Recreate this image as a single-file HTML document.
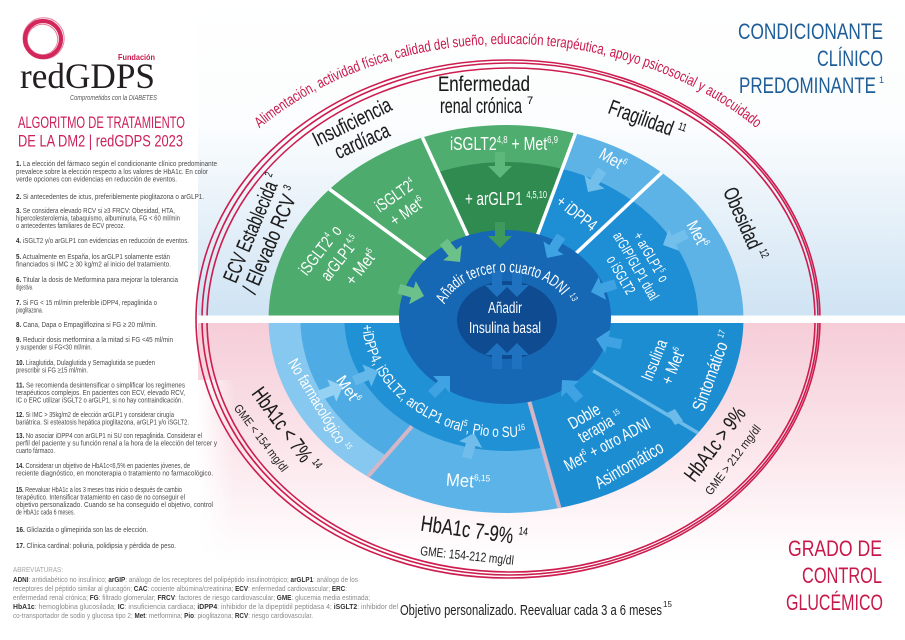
<!DOCTYPE html>
<html lang="es">
<head>
<meta charset="utf-8">
<title>Algoritmo de tratamiento de la DM2 | redGDPS 2023</title>
<style>
  html,body{margin:0;padding:0;background:#fff;}
  svg{display:block;}
  text{font-family:"Liberation Sans Narrow","Liberation Sans",sans-serif;}
  .k{fill:#1b1b1b;stroke:#1b1b1b;stroke-width:.12;}
  .w{fill:#ffffff;}
  .n{fill:#4a4a4a;font-size:7.6px;}
  .n .b{fill:#2a2a2a;font-weight:bold;}
  .ab{fill:#8a8a8a;font-size:7px;}
  .ab .b{fill:#333;font-weight:bold;}
</style>
</head>
<body>
<svg width="905" height="640" viewBox="0 0 905 640" xmlns="http://www.w3.org/2000/svg">
<defs>
  <linearGradient id="gt" x1="0" y1="0" x2="0" y2="316" gradientUnits="userSpaceOnUse">
    <stop offset="0" stop-color="#ffffff"/>
    <stop offset="0.4" stop-color="#fbfdfe"/>
    <stop offset="1" stop-color="#cfe3f3"/>
  </linearGradient>
  <linearGradient id="gb" x1="0" y1="323" x2="0" y2="640" gradientUnits="userSpaceOnUse">
    <stop offset="0" stop-color="#f5cdd8"/>
    <stop offset="0.4" stop-color="#fbe6ec"/>
    <stop offset="0.75" stop-color="#ffffff"/>
  </linearGradient>
  <linearGradient id="gl" x1="198" y1="0" x2="235" y2="0" gradientUnits="userSpaceOnUse">
    <stop offset="0" stop-color="#ffffff" stop-opacity="1"/>
    <stop offset="1" stop-color="#ffffff" stop-opacity="0"/>
  </linearGradient>
  <path id="ar" d="M-5,-26 L5,-26 L5,-12 L12,-12 L0,0 L-12,-12 L-5,-12 Z"/>
  <path id="topArc" d="M243.7,142.2 A345,275 0 0 1 772.3,142.2" fill="none"/>
  <path id="cogArc" d="M443,309.2 A64,45 0 0 1 569,309.2" fill="none"/>
  <path id="ringArc" d="M362,319 A144,118 0 0 0 555.2,429.9" fill="none"/>
</defs>

<!-- background -->
<rect x="0" y="0" width="905" height="640" fill="#ffffff"/>
<rect x="198" y="0" width="707" height="316" fill="url(#gt)"/>
<rect x="198" y="323" width="707" height="317" fill="url(#gb)"/>
<rect x="198" y="380" width="40" height="260" fill="url(#gl)"/>

<!-- red rings -->
<g fill="none" stroke="#cc1d4e" stroke-width="1.6">
  <ellipse cx="508" cy="319" rx="312" ry="259"/>
  <ellipse cx="510" cy="319" rx="308" ry="256"/>
  <ellipse cx="511" cy="320" rx="304" ry="252"/>
</g>

<!-- top arc text -->
<text font-size="15" fill="#c8184a">
  <textPath href="#topArc" startOffset="50%" text-anchor="middle" textLength="535" lengthAdjust="spacingAndGlyphs">Alimentación, actividad física, calidad del sueño, educación terapéutica, apoyo psicosocial y autocuidado</textPath>
</text>

<!-- wheel -->
<g transform="translate(506,319) scale(1.224,1)">
  <path d="M0,0 L-144.2,-129.8 A194,194 0 0 0 -194,0 Z" fill="#4cab6d"/>
  <path d="M0,0 L-68.3,-181.6 A194,194 0 0 0 -144.2,-129.8 Z" fill="#4cab6d"/>
  <path d="M0,0 L56.7,-185.5 A194,194 0 0 0 -68.3,-181.6 Z" fill="#50ad70"/>
  <path d="M0,0 L45.9,-150.1 A157,157 0 0 0 -55.2,-147 Z" fill="#2f8b50"/>
  <path d="M0,0 L127.3,-146.4 A194,194 0 0 0 56.7,-185.5 Z" fill="#5db3e6"/>
  <path d="M0,0 L103,-118.5 A157,157 0 0 0 45.9,-150.1 Z" fill="#1e8ed5"/>
  <path d="M0,0 L194,0 A194,194 0 0 0 127.3,-146.4 Z" fill="#5db3e6"/>
  <path d="M0,0 L157,0 A157,157 0 0 0 103,-118.5 Z" fill="#1e8ed5"/>
  <path d="M0,0 L-194,0 A194,194 0 0 0 -112.9,157.7 Z" fill="#86c8ef"/>
  <path d="M0,0 L-168,0 A168,168 0 0 0 -97.8,136.6 Z" fill="#4eabe3"/>
  <path d="M0,0 L-112.9,157.7 A194,194 0 0 0 43.7,189 Z" fill="#5cb3e7"/>
  <path d="M0,0 L-132,0 A132,132 0 0 0 29.7,128.6 Z" fill="#2191d6"/>
  <path d="M0,0 L43.7,189 A194,194 0 0 0 194,0 Z" fill="#1d8dd2"/>
  <g stroke="#ffffff" stroke-width="3.5">
    <line x1="-63.2" y1="-56.9" x2="-144.2" y2="-129.8" vector-effect="non-scaling-stroke"/>
    <line x1="-29.9" y1="-79.6" x2="-68.3" y2="-181.6" vector-effect="non-scaling-stroke"/>
    <line x1="24.9" y1="-81.3" x2="56.7" y2="-185.5" vector-effect="non-scaling-stroke"/>
    <line x1="55.8" y1="-64.1" x2="127.3" y2="-146.4" vector-effect="non-scaling-stroke"/>
  </g>
  <g stroke="#d4b6c7" stroke-width="4">
    <line x1="-76.8" y1="107.3" x2="-112.9" y2="157.7" vector-effect="non-scaling-stroke"/>
    <line x1="19.1" y1="82.8" x2="43.7" y2="189" vector-effect="non-scaling-stroke"/>
  </g>
  <line x1="71.2" y1="51.7" x2="156.9" y2="114" stroke="#6cbbe9" stroke-width="3.5" vector-effect="non-scaling-stroke"/>
</g>

<!-- horizontal white band -->
<rect x="198" y="315.5" width="707" height="7.5" fill="#ffffff"/>

<polygon points="675,409 683,421 675,425 667,413" fill="#6cbbe9"/>

<!-- arrows between bands -->
<use href="#ar" transform="translate(500,178) rotate(0)" fill="#5cb87b"/>
<use href="#ar" transform="translate(588,192) rotate(33)" fill="#72bfec"/>
<use href="#ar" transform="translate(663,245) rotate(65)" fill="#72bfec"/>
<use href="#ar" transform="translate(343,386) rotate(-112)" fill="#95d1f3"/>
<use href="#ar" transform="translate(378,371) rotate(-112)" fill="#64b8ea"/>
<use href="#ar" transform="translate(474,433) rotate(-164)" fill="#70bdeb"/>

<!-- cog -->
<ellipse cx="505" cy="317" rx="106" ry="87" fill="#1667b4"/>

<use href="#ar" transform="translate(424,296) rotate(-74)" fill="#6cc08a"/>
<use href="#ar" transform="translate(460,262) rotate(-39)" fill="#6cc08a"/>
<use href="#ar" transform="translate(500,248) rotate(0)" fill="#3d9a5c"/>
<use href="#ar" transform="translate(547,258) rotate(33)" fill="#3fa3e3"/>
<use href="#ar" transform="translate(591,292) rotate(72)" fill="#3fa3e3"/>
<use href="#ar" transform="translate(450,376) rotate(-135)" fill="#3fa2e2"/>
<use href="#ar" transform="translate(562,380) rotate(138)" fill="#3fa3e3"/>
<use href="#ar" transform="translate(596,339) rotate(102)" fill="#3fa3e3"/>

<!-- inner -->
<ellipse cx="507" cy="320" rx="50" ry="39" fill="#0e4b90"/>
<use href="#ar" transform="translate(497,297) rotate(0)" fill="#1f72c0"/>
<use href="#ar" transform="translate(517,297) rotate(0)" fill="#1f72c0"/>
<use href="#ar" transform="translate(497,343) rotate(180)" fill="#1f72c0"/>
<use href="#ar" transform="translate(517,343) rotate(180)" fill="#1f72c0"/>

<!-- cog texts -->
<text class="w" font-size="16">
  <textPath href="#cogArc" startOffset="50%" text-anchor="middle" textLength="146" lengthAdjust="spacingAndGlyphs">Añadir tercer o cuarto ADNI <tspan font-size="9" dy="-6">13</tspan></textPath>
</text>
<text class="w" x="505" y="313" text-anchor="middle" font-size="16" textLength="34" lengthAdjust="spacingAndGlyphs">Añadir</text>
<text class="w" x="505" y="333" text-anchor="middle" font-size="16" textLength="72" lengthAdjust="spacingAndGlyphs">Insulina basal</text>

<text class="w" font-size="15">
  <textPath href="#ringArc" startOffset="6" textLength="220" lengthAdjust="spacingAndGlyphs">+iDPP4, iSGLT2, arGLP1 oral<tspan font-size="9" dy="-6">5</tspan><tspan dy="6">, Pio o SU</tspan><tspan font-size="9" dy="-6">16</tspan></textPath>
</text>

<!-- white texts top -->
<g transform="translate(320,250) rotate(-52)"><text class="w" y="6" text-anchor="middle" font-size="17" textLength="58" lengthAdjust="spacingAndGlyphs">iSGLT2<tspan font-size="9" dy="-7">4</tspan><tspan dy="7"> o</tspan></text></g>
<g transform="translate(340,258) rotate(-52)"><text class="w" y="6" text-anchor="middle" font-size="17" textLength="52" lengthAdjust="spacingAndGlyphs">arGLP1<tspan font-size="9" dy="-7">4,5</tspan></text></g>
<g transform="translate(361,267) rotate(-52)"><text class="w" y="6" text-anchor="middle" font-size="17" textLength="40" lengthAdjust="spacingAndGlyphs">+ Met<tspan font-size="9" dy="-7">6</tspan></text></g>

<g transform="translate(395,195) rotate(-35)"><text class="w" y="6" text-anchor="middle" font-size="17" textLength="45" lengthAdjust="spacingAndGlyphs">iSGLT2<tspan font-size="9" dy="-7">4</tspan></text></g>
<g transform="translate(407,211) rotate(-35)"><text class="w" y="6" text-anchor="middle" font-size="17" textLength="38" lengthAdjust="spacingAndGlyphs">+ Met<tspan font-size="9" dy="-7">6</tspan></text></g>

<text class="w" x="504" y="150" text-anchor="middle" font-size="18" textLength="108" lengthAdjust="spacingAndGlyphs">iSGLT2<tspan font-size="10" dy="-7">4,8</tspan><tspan dy="7"> + Met</tspan><tspan font-size="10" dy="-7">6,9</tspan></text>
<text class="w" x="506" y="205" text-anchor="middle" font-size="18" textLength="82" lengthAdjust="spacingAndGlyphs">+ arGLP1 <tspan font-size="10" dy="-7">4,5,10</tspan></text>

<g transform="translate(613,159) rotate(30)"><text class="w" y="6" text-anchor="middle" font-size="17" textLength="28" lengthAdjust="spacingAndGlyphs">Met<tspan font-size="9" dy="-7">6</tspan></text></g>
<g transform="translate(577,213) rotate(38)"><text class="w" y="6" text-anchor="middle" font-size="17" textLength="46" lengthAdjust="spacingAndGlyphs">+ iDPP4</text></g>

<g transform="translate(698,234) rotate(62)"><text class="w" y="6" text-anchor="middle" font-size="17" textLength="28" lengthAdjust="spacingAndGlyphs">Met<tspan font-size="9" dy="-7">6</tspan></text></g>
<g transform="translate(651,257) rotate(60)"><text class="w" y="5" text-anchor="middle" font-size="15" textLength="55" lengthAdjust="spacingAndGlyphs">+ arGLP1<tspan font-size="8" dy="-6">5</tspan><tspan dy="6"> o</tspan></text></g>
<g transform="translate(636,266) rotate(60)"><text class="w" y="5" text-anchor="middle" font-size="15" textLength="76" lengthAdjust="spacingAndGlyphs">arGIP/GLP1 dual</text></g>
<g transform="translate(621,275) rotate(60)"><text class="w" y="5" text-anchor="middle" font-size="15" textLength="42" lengthAdjust="spacingAndGlyphs">o iSGLT2</text></g>

<!-- white texts bottom -->
<g transform="translate(320,405) rotate(59)"><text class="w" y="6" text-anchor="middle" font-size="16" textLength="106" lengthAdjust="spacingAndGlyphs">No farmacológico <tspan font-size="8" dy="-7">15</tspan></text></g>
<g transform="translate(349,389) rotate(55)"><text class="w" y="6" text-anchor="middle" font-size="16" textLength="30" lengthAdjust="spacingAndGlyphs">Met<tspan font-size="8" dy="-7">6</tspan></text></g>
<g transform="translate(468,481) rotate(4)"><text class="w" y="6" text-anchor="middle" font-size="18" textLength="44" lengthAdjust="spacingAndGlyphs">Met<tspan font-size="9" dy="-7">6,15</tspan></text></g>

<g transform="translate(654,360) rotate(-68)"><text class="w" y="6" text-anchor="middle" font-size="17" textLength="43" lengthAdjust="spacingAndGlyphs">Insulina</text></g>
<g transform="translate(673,366) rotate(-68)"><text class="w" y="6" text-anchor="middle" font-size="17" textLength="38" lengthAdjust="spacingAndGlyphs">+ Met<tspan font-size="9" dy="-7">6</tspan></text></g>
<g transform="translate(712,371) rotate(-70)"><text class="w" y="6" text-anchor="middle" font-size="18" textLength="84" lengthAdjust="spacingAndGlyphs">Sintomático <tspan font-size="9" dy="-7">17</tspan></text></g>
<g transform="translate(584,416) rotate(-30)"><text class="w" y="6" text-anchor="middle" font-size="17" textLength="34" lengthAdjust="spacingAndGlyphs">Doble</text></g>
<g transform="translate(600,426) rotate(-30)"><text class="w" y="6" text-anchor="middle" font-size="17" textLength="48" lengthAdjust="spacingAndGlyphs">terapia <tspan font-size="8" dy="-7">15</tspan></text></g>
<g transform="translate(607,444) rotate(-28)"><text class="w" y="6" text-anchor="middle" font-size="17" textLength="95" lengthAdjust="spacingAndGlyphs">Met<tspan font-size="9" dy="-7">6</tspan><tspan dy="7"> + otro ADNI</tspan></text></g>
<g transform="translate(629,465) rotate(-30)"><text class="w" y="6" text-anchor="middle" font-size="18" textLength="76" lengthAdjust="spacingAndGlyphs">Asintomático</text></g>

<!-- category labels -->
<g transform="translate(252,228) rotate(-67)"><text class="k" y="7" text-anchor="middle" font-size="21" textLength="116" lengthAdjust="spacingAndGlyphs">ECV Establecida <tspan font-size="11" dy="-9">2</tspan></text></g>
<g transform="translate(271,240) rotate(-67)"><text class="k" y="7" text-anchor="middle" font-size="21" textLength="114" lengthAdjust="spacingAndGlyphs">/ Elevado RCV <tspan font-size="11" dy="-9">3</tspan></text></g>
<g transform="translate(352,122) rotate(-26)"><text class="k" y="7" text-anchor="middle" font-size="21" textLength="85" lengthAdjust="spacingAndGlyphs">Insuficiencia</text></g>
<g transform="translate(362,141) rotate(-24)"><text class="k" y="7" text-anchor="middle" font-size="21" textLength="58" lengthAdjust="spacingAndGlyphs">cardíaca</text></g>
<text class="k" x="484" y="91" text-anchor="middle" font-size="21" textLength="92" lengthAdjust="spacingAndGlyphs">Enfermedad</text>
<text class="k" x="440" y="113" font-size="21" textLength="82" lengthAdjust="spacingAndGlyphs">renal crónica</text>
<text class="k" x="527" y="104" font-size="11">7</text>
<g transform="translate(647,120) rotate(20)"><text class="k" y="7" text-anchor="middle" font-size="21" textLength="80" lengthAdjust="spacingAndGlyphs">Fragilidad <tspan font-size="11" dy="-9">11</tspan></text></g>
<g transform="translate(745,224) rotate(66)"><text class="k" y="7" text-anchor="middle" font-size="21" textLength="78" lengthAdjust="spacingAndGlyphs">Obesidad <tspan font-size="11" dy="-9">12</tspan></text></g>

<g transform="translate(286,430) rotate(54)"><text class="k" y="7" text-anchor="middle" font-size="21" textLength="100" lengthAdjust="spacingAndGlyphs">HbA1c &lt; 7% <tspan font-size="11" dy="-9">14</tspan></text></g>
<g transform="translate(261,438) rotate(53)"><text y="4" text-anchor="middle" font-size="12" fill="#222" textLength="81" lengthAdjust="spacingAndGlyphs">GME &lt; 154 mg/dl</text></g>
<g transform="translate(474,531) rotate(8)"><text class="k" y="7" text-anchor="middle" font-size="22" textLength="107" lengthAdjust="spacingAndGlyphs">HbA1c 7-9% <tspan font-size="11" dy="-10">14</tspan></text></g>
<g transform="translate(467,556) rotate(6)"><text y="4" text-anchor="middle" font-size="13" fill="#222" textLength="94" lengthAdjust="spacingAndGlyphs">GME: 154-212 mg/dl</text></g>
<g transform="translate(715,444) rotate(-53)"><text class="k" y="7" text-anchor="middle" font-size="21" textLength="87" lengthAdjust="spacingAndGlyphs">HbA1c &gt; 9%</text></g>
<g transform="translate(733,460) rotate(-53)"><text y="4" text-anchor="middle" font-size="12" fill="#222" textLength="84" lengthAdjust="spacingAndGlyphs">GME &gt; 212 mg/dl</text></g>

<!-- right titles -->
<g fill="#1e5d98" font-size="22">
  <text x="883" y="39" text-anchor="end" textLength="145" lengthAdjust="spacingAndGlyphs">CONDICIONANTE</text>
  <text x="883" y="66" text-anchor="end" textLength="66" lengthAdjust="spacingAndGlyphs">CLÍNICO</text>
  <text x="876" y="93" text-anchor="end" textLength="137" lengthAdjust="spacingAndGlyphs">PREDOMINANTE</text>
  <text x="879" y="83" font-size="9">1</text>
</g>
<g fill="#c8184a" font-size="22">
  <text x="882" y="556" text-anchor="end" textLength="94" lengthAdjust="spacingAndGlyphs">GRADO DE</text>
  <text x="882" y="583" text-anchor="end" textLength="80" lengthAdjust="spacingAndGlyphs">CONTROL</text>
  <text x="883" y="610" text-anchor="end" textLength="97" lengthAdjust="spacingAndGlyphs">GLUCÉMICO</text>
</g>
<text x="400" y="615" font-size="14.5" fill="#222" textLength="262" lengthAdjust="spacingAndGlyphs">Objetivo personalizado. Reevaluar cada 3 a 6 meses</text>
<text x="663" y="607" font-size="8" fill="#222">15</text>

<!-- logo -->
<g fill="none" stroke="#d3265a">
  <circle cx="43" cy="39" r="18" stroke-width="4.2"/>
  <circle cx="43.6" cy="38.4" r="20.6" stroke-width="1" opacity="0.6"/>
  <circle cx="42.5" cy="39.5" r="15.2" stroke-width="1" opacity="0.6"/>
</g>
<text x="118" y="60" font-size="8.5" font-weight="bold" fill="#c8184a" textLength="37" lengthAdjust="spacingAndGlyphs">Fundación</text>
<text x="20" y="88" font-size="36" fill="#231f20" style="font-family:'Liberation Serif',serif" textLength="135" lengthAdjust="spacingAndGlyphs">redGDPS</text>
<text x="70" y="100" font-size="7" font-style="italic" fill="#555" textLength="87" lengthAdjust="spacingAndGlyphs">Comprometidos con la DIABETES</text>
<text x="18" y="128" font-size="17" fill="#cc1f5a" textLength="167" lengthAdjust="spacingAndGlyphs">ALGORITMO DE TRATAMIENTO</text>
<text x="18" y="146.5" font-size="17" fill="#cc1f5a" textLength="165" lengthAdjust="spacingAndGlyphs">DE LA DM2 <tspan> | </tspan> redGDPS 2023</text>

<!-- notes -->
<g class="n">
  <text x="16" y="166" textLength="201" lengthAdjust="spacingAndGlyphs"><tspan class="b">1.</tspan> La elección del fármaco según el condicionante clínico predominante</text>
  <text x="16" y="174" textLength="192" lengthAdjust="spacingAndGlyphs">prevalece sobre la elección respecto a los valores de HbA1c. En color</text>
  <text x="16" y="181.5" textLength="161" lengthAdjust="spacingAndGlyphs">verde opciones con evidencias en reducción de eventos.</text>
  <text x="16" y="199" textLength="188" lengthAdjust="spacingAndGlyphs"><tspan class="b">2.</tspan> Si antecedentes de ictus, preferiblemente pioglitazona o arGLP1.</text>
  <text x="16" y="213" textLength="159" lengthAdjust="spacingAndGlyphs"><tspan class="b">3.</tspan> Se considera elevado RCV si ≥3 FRCV: Obesidad, HTA,</text>
  <text x="16" y="220.5" textLength="164" lengthAdjust="spacingAndGlyphs">hipercolesterolemia, tabaquismo, albuminuria, FG &lt; 60 ml/min</text>
  <text x="16" y="228" textLength="109" lengthAdjust="spacingAndGlyphs">o antecedentes familiares de ECV precoz.</text>
  <text x="16" y="243" textLength="173" lengthAdjust="spacingAndGlyphs"><tspan class="b">4.</tspan> iSGLT2 y/o arGLP1 con evidencias en reducción de eventos.</text>
  <text x="16" y="259" textLength="154" lengthAdjust="spacingAndGlyphs"><tspan class="b">5.</tspan> Actualmente en España, los arGLP1 solamente están</text>
  <text x="16" y="266.5" textLength="155" lengthAdjust="spacingAndGlyphs">financiados si IMC ≥ 30 kg/m2 al inicio del tratamiento.</text>
  <text x="16" y="282" textLength="162" lengthAdjust="spacingAndGlyphs"><tspan class="b">6.</tspan> Titular la dosis de Metformina para mejorar la tolerancia</text>
  <text x="16" y="289.5" textLength="17" lengthAdjust="spacingAndGlyphs">digestiva.</text>
  <text x="16" y="305" textLength="141" lengthAdjust="spacingAndGlyphs"><tspan class="b">7.</tspan> Si FG &lt; 15 ml/min preferible iDPP4, repaglinida o</text>
  <text x="16" y="312.5" textLength="27" lengthAdjust="spacingAndGlyphs">pioglitazona.</text>
  <text x="16" y="327" textLength="141" lengthAdjust="spacingAndGlyphs"><tspan class="b">8.</tspan> Cana, Dapa o Empagliflozina si FG ≥ 20 ml/min.</text>
  <text x="16" y="342" textLength="157" lengthAdjust="spacingAndGlyphs"><tspan class="b">9.</tspan> Reducir dosis metformina a la mitad si FG &lt;45 ml/min</text>
  <text x="16" y="349.5" textLength="76" lengthAdjust="spacingAndGlyphs">y suspender si FG&lt;30 ml/min.</text>
  <text x="16" y="365" textLength="139" lengthAdjust="spacingAndGlyphs"><tspan class="b">10.</tspan> Liraglutida, Dulaglutida y Semaglutida se pueden</text>
  <text x="16" y="372.5" textLength="72" lengthAdjust="spacingAndGlyphs">prescribir si FG ≥15 ml/min.</text>
  <text x="16" y="387.5" textLength="169" lengthAdjust="spacingAndGlyphs"><tspan class="b">11.</tspan> Se recomienda desintensificar o simplificar los regímenes</text>
  <text x="16" y="395" textLength="169" lengthAdjust="spacingAndGlyphs">terapéuticos complejos. En pacientes con ECV, elevado RCV,</text>
  <text x="16" y="402.5" textLength="167" lengthAdjust="spacingAndGlyphs">IC o ERC utilizar iSGLT2 o arGLP1, si no hay contraindicación.</text>
  <text x="16" y="417" textLength="158" lengthAdjust="spacingAndGlyphs"><tspan class="b">12.</tspan> Si IMC &gt; 35kg/m2 de elección arGLP1 y considerar cirugía</text>
  <text x="16" y="424.5" textLength="173" lengthAdjust="spacingAndGlyphs">bariátrica. Si esteatosis hepática pioglitazona, arGLP1 y/o iSGLT2.</text>
  <text x="16" y="438" textLength="186" lengthAdjust="spacingAndGlyphs"><tspan class="b">13.</tspan> No asociar iDPP4 con arGLP1 ni SU con repaglinida. Considerar el</text>
  <text x="16" y="445.5" textLength="201" lengthAdjust="spacingAndGlyphs">perfil del paciente y su función renal a la hora de la elección del tercer y</text>
  <text x="16" y="453" textLength="39" lengthAdjust="spacingAndGlyphs">cuarto fármaco.</text>
  <text x="16" y="468" textLength="174" lengthAdjust="spacingAndGlyphs"><tspan class="b">14.</tspan> Considerar un objetivo de HbA1c&lt;6,5% en pacientes jóvenes, de</text>
  <text x="16" y="475.5" textLength="197" lengthAdjust="spacingAndGlyphs">reciente diagnóstico, en monoterapia o tratamiento no farmacológico.</text>
  <text x="16" y="492" textLength="166" lengthAdjust="spacingAndGlyphs"><tspan class="b">15.</tspan> Reevaluar HbA1c a los 3 meses tras inicio o después de cambio</text>
  <text x="16" y="499.5" textLength="169" lengthAdjust="spacingAndGlyphs">terapéutico. Intensificar tratamiento en caso de no conseguir el</text>
  <text x="16" y="507" textLength="197" lengthAdjust="spacingAndGlyphs">objetivo personalizado. Cuando se ha conseguido el objetivo, control</text>
  <text x="16" y="514.5" textLength="59" lengthAdjust="spacingAndGlyphs">de HbA1c cada 6 meses.</text>
  <text x="16" y="532" textLength="132" lengthAdjust="spacingAndGlyphs"><tspan class="b">16.</tspan> Gliclazida o glimepirida son las de elección.</text>
  <text x="16" y="548" textLength="160" lengthAdjust="spacingAndGlyphs"><tspan class="b">17.</tspan> Clínica cardinal: poliuria, polidipsia y pérdida de peso.</text>
</g>

<!-- abbreviations -->
<text x="13" y="572" font-size="7.5" fill="#a5a5a5" textLength="50" lengthAdjust="spacingAndGlyphs">ABREVIATURAS:</text>
<g class="ab">
  <text x="13" y="582" textLength="345" lengthAdjust="spacingAndGlyphs"><tspan class="b">ADNI</tspan>: antidiabético no insulínico; <tspan class="b">arGIP</tspan>: análogo de los receptores del polipéptido insulinotrópico; <tspan class="b">arGLP1</tspan>: análogo de los</text>
  <text x="13" y="591" textLength="334" lengthAdjust="spacingAndGlyphs">receptores del péptido similar al glucagón; <tspan class="b">CAC</tspan>: cociente albúmina/creatinina; <tspan class="b">ECV</tspan>: enfermedad cardiovascular; <tspan class="b">ERC</tspan>:</text>
  <text x="13" y="600" textLength="357" lengthAdjust="spacingAndGlyphs">enfermedad renal crónica; <tspan class="b">FG</tspan>: filtrado glomerular; <tspan class="b">FRCV</tspan>: factores de riesgo cardiovascular; <tspan class="b">GME</tspan>: glucemia media estimada;</text>
  <text x="13" y="609" textLength="385" lengthAdjust="spacingAndGlyphs"><tspan class="b">HbA1c</tspan>: hemoglobina glucosilada; <tspan class="b">IC</tspan>: insuficiencia cardiaca; <tspan class="b">iDPP4</tspan>: inhibidor de la dipeptidil peptidasa 4; <tspan class="b">iSGLT2</tspan>: inhibidor del</text>
  <text x="13" y="618" textLength="300" lengthAdjust="spacingAndGlyphs">co-transportador de sodio y glucosa tipo 2; <tspan class="b">Met</tspan>: metformina; <tspan class="b">Pio</tspan>: pioglitazona; <tspan class="b">RCV</tspan>: riesgo cardiovascular.</text>
</g>
</svg>
</body>
</html>
